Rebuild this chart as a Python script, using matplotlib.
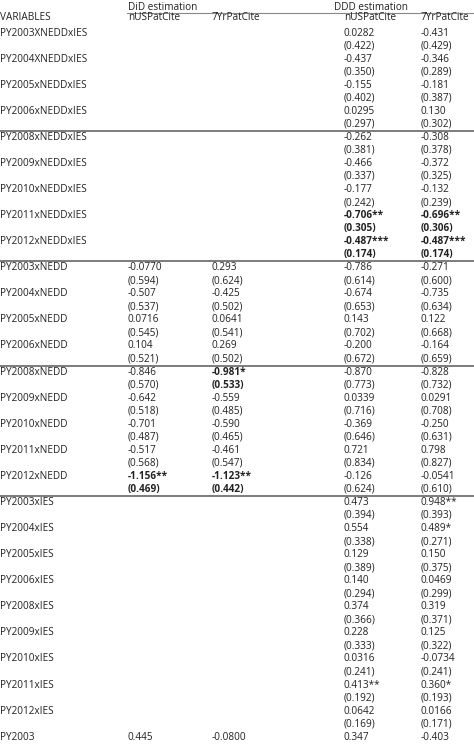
import matplotlib
matplotlib.use("Agg")
import matplotlib.pyplot as plt

variables = ["PY2003XNEDDxIES","PY2004XNEDDxIES","PY2005xNEDDxIES","PY2006xNEDDxIES",
             "PY2008xNEDDxIES","PY2009xNEDDxIES","PY2010xNEDDxIES","PY2011xNEDDxIES","PY2012xNEDDxIES",
             "PY2003xNEDD","PY2004xNEDD","PY2005xNEDD","PY2006xNEDD",
             "PY2008xNEDD","PY2009xNEDD","PY2010xNEDD","PY2011xNEDD","PY2012xNEDD",
             "PY2003xIES","PY2004xIES","PY2005xIES","PY2006xIES",
             "PY2008xIES","PY2009xIES","PY2010xIES","PY2011xIES","PY2012xIES","PY2003"]
did_n_coef = [""]*9 + ["-0.0770","-0.507","0.0716","0.104","-0.846","-0.642","-0.701","-0.517","-1.156**"] + [""]*9 + ["0.445"]
did_n_se = [""]*9 + ["(0.594)","(0.537)","(0.545)","(0.521)","(0.570)","(0.518)","(0.487)","(0.568)","(0.469)"] + [""]*9 + [""]
did_7_coef = [""]*9 + ["0.293","-0.425","0.0641","0.269","-0.981*","-0.559","-0.590","-0.461","-1.123**"] + [""]*9 + ["-0.0800"]
did_7_se = [""]*9 + ["(0.624)","(0.502)","(0.541)","(0.502)","(0.533)","(0.485)","(0.465)","(0.547)","(0.442)"] + [""]*9 + [""]
ddd_n_coef = ["0.0282","-0.437","-0.155","0.0295","-0.262","-0.466","-0.177","-0.706**","-0.487***",
              "-0.786","-0.674","0.143","-0.200","-0.870","0.0339","-0.369","0.721","-0.126",
              "0.473","0.554","0.129","0.140","0.374","0.228","0.0316","0.413**","0.0642","0.347"]
ddd_n_se = ["(0.422)","(0.350)","(0.402)","(0.297)","(0.381)","(0.337)","(0.242)","(0.305)","(0.174)",
            "(0.614)","(0.653)","(0.702)","(0.672)","(0.773)","(0.716)","(0.646)","(0.834)","(0.624)",
            "(0.394)","(0.338)","(0.389)","(0.294)","(0.366)","(0.333)","(0.241)","(0.192)","(0.169)",""]
ddd_7_coef = ["-0.431","-0.346","-0.181","0.130","-0.308","-0.372","-0.132","-0.696**","-0.487***",
              "-0.271","-0.735","0.122","-0.164","-0.828","0.0291","-0.250","0.798","-0.0541",
              "0.948**","0.489*","0.150","0.0469","0.319","0.125","-0.0734","0.360*","0.0166","-0.403"]
ddd_7_se = ["(0.429)","(0.289)","(0.387)","(0.302)","(0.378)","(0.325)","(0.239)","(0.306)","(0.174)",
            "(0.600)","(0.634)","(0.668)","(0.659)","(0.732)","(0.708)","(0.631)","(0.827)","(0.610)",
            "(0.393)","(0.271)","(0.375)","(0.299)","(0.371)","(0.322)","(0.241)","(0.193)","(0.171)",""]
bold_cells = {(7,2),(7,3),(8,2),(8,3),(13,1),(17,0),(17,1)}
sep_after = [3, 8, 12, 17]

W, H = 474, 744
fig = plt.figure(figsize=(W/100, H/100), dpi=100)
ax = fig.add_axes([0, 0, 1, 1])
ax.set_xlim(0, W); ax.set_ylim(H, 0); ax.axis("off")
fs = 7.2
col = "#222222"
kw = dict(fontsize=fs, color=col, family="Open Sans", va="center", ha="left")
xs = [128, 212, 344, 421]

ax.text(128, 7, "DiD estimation", **kw)
ax.text(334, 7, "DDD estimation", **kw)
ax.plot([127, 474], [13, 13], color="#888888", lw=0.8)
ax.text(0, 18, "VARIABLES", **kw)
for x, t in zip(xs, ["nUSPatCite", "7YrPatCite", "nUSPatCite", "7YrPatCite"]):
    ax.text(x, 18, t, **kw)

pitch = 13.04
y0 = 33
cols = [(did_n_coef, did_n_se), (did_7_coef, did_7_se), (ddd_n_coef, ddd_n_se), (ddd_7_coef, ddd_7_se)]
for i, v in enumerate(variables):
    y = y0 + 2*i*pitch
    ax.text(0, y, v, **kw)
    for j, (c, s) in enumerate(cols):
        w = "bold" if (i, j) in bold_cells else "normal"
        if c[i]:
            ax.text(xs[j], y, c[i], fontweight=w, **kw)
        if s[i]:
            ax.text(xs[j], y + pitch, s[i], fontweight=w, **kw)
    if i in sep_after:
        ly = y + pitch + 6.5
        ax.plot([0, W], [ly, ly], color="#666666", lw=1.2)

fig.savefig("out.png", dpi=100, facecolor="white")
